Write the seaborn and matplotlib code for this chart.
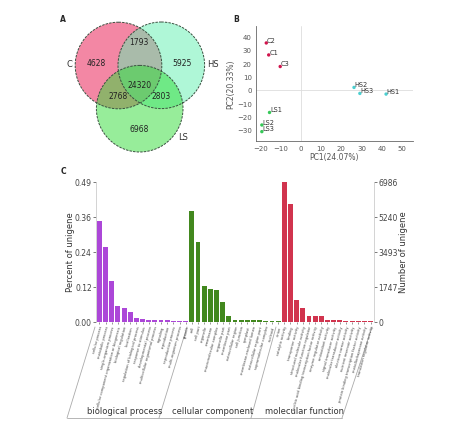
import numpy as np
import pandas as pd
import matplotlib
matplotlib.use("Agg")
import matplotlib.pyplot as plt
from matplotlib.patches import Circle
import seaborn as sns

sns.set_theme(style="white")
plt.rcParams['font.family'] = ['DejaVu Sans']

# ---- A: Venn counts ----
venn_sets = ['C', 'HS', 'LS']
venn_counts = {'C': 4628, 'HS': 5925, 'LS': 6968, 'C&HS': 1793,
               'C&LS': 2768, 'HS&LS': 2803, 'all': 24320}

# ---- B: PCA scores ----
pca_names = ['C1', 'C2', 'C3', 'HS1', 'HS2', 'HS3', 'LS1', 'LS2', 'LS3']
pca_group = ['C', 'C', 'C', 'HS', 'HS', 'HS', 'LS', 'LS', 'LS']
pc1 = [-16.0, -17.2, -10.3, 42.2, 26.3, 29.2, -15.6, -19.4, -19.4]
pc2 = [26.2, 35.2, 17.5, -3.2, 1.8, -2.7, -17.0, -26.4, -31.4]

# ---- C: GO classification ----
bp_terms = ['cellular process', 'metabolic process', 'single-organism process',
            'cellular component organization or biogenesis', 'biological regulation',
            'localization', 'regulation of biological process', 'response to stimulus',
            'developmental process', 'multicellular organismal process', 'signaling',
            'reproduction', 'reproductive process', 'multi-organism process', 'growth']
bp_pct = [0.354, 0.260, 0.143, 0.056, 0.046, 0.032, 0.012, 0.009, 0.006, 0.005,
          0.005, 0.004, 0.002, 0.001, 0.001]
cc_terms = ['cell', 'cell part', 'organelle', 'membrane', 'macromolecular complex',
            'organelle part', 'membrane part', 'extracellular region', 'cell junction',
            'symplast', 'membrane-enclosed lumen', 'extracellular region part',
            'supramolecular complex', 'nucleoid', 'virion']
cc_pct = [0.387, 0.278, 0.124, 0.114, 0.112, 0.067, 0.018, 0.006, 0.006, 0.005,
          0.005, 0.004, 0.003, 0.002, 0.001]
mf_terms = ['catalytic activity', 'binding', 'transporter activity',
            'structural molecule activity', 'molecular function regulator',
            'nucleic acid binding transcription factor activity', 'enzyme regulator activity',
            'antioxidant activity', 'signal transducer activity', 'molecular transducer activity',
            'electron carrier activity', 'nutrient reservoir activity',
            'protein binding transcription factor activity', 'metallochaperone activity',
            'translation regulator activity']
mf_pct = [0.488, 0.412, 0.075, 0.046, 0.020, 0.020, 0.020, 0.007, 0.005, 0.005,
          0.0005, 0.0005, 0.0005, 0.0005, 0.0005]
go_groups = ['biological process', 'cellular component', 'molecular function']
left_ticks = ['0.00', '0.12', '0.24', '0.36', '0.49']
right_ticks = ['0', '1747', '3493', '5240', '6986']

go = pd.DataFrame({
    'term': bp_terms + cc_terms + mf_terms,
    'pct': bp_pct + cc_pct + mf_pct,
    'ontology': [go_groups[0]] * 15 + [go_groups[1]] * 15 + [go_groups[2]] * 15,
})
pca = pd.DataFrame({'name': pca_names, 'group': pca_group, 'PC1': pc1, 'PC2': pc2})

fig = plt.figure(figsize=(4.74, 4.31), dpi=100)
W, H = 474, 431

# overlay in pixel coords for venn and brackets
ov = fig.add_axes([0, 0, 1, 1])
ov.set_xlim(0, W)
ov.set_ylim(H, 0)
ov.axis('off')

# Venn
circ = {'C': ((118.5, 66.5), '#e8104a', 0.5), 'HS': ((161.3, 66.3), '#60f0b0', 0.5),
        'LS': ((139.7, 109.7), '#30dc36', 0.5)}
for s in venn_sets:
    (cx, cy), col, a = circ[s]
    ov.add_patch(Circle((cx, cy), 43.3, facecolor=col, alpha=a, edgecolor='none'))
for s in venn_sets:
    (cx, cy), col, a = circ[s]
    ov.add_patch(Circle((cx, cy), 43.3, facecolor='none', edgecolor='#3a5040',
                        lw=0.7, ls=(0, (2.5, 1.2))))
vpos = {'C': (96.7, 63.3), 'HS': (182.3, 63.3), 'LS': (139.3, 129.3),
        'C&HS': (139.3, 42.3), 'C&LS': (118, 96.7), 'HS&LS': (161, 96.7),
        'all': (139.3, 86)}
for k, v in venn_counts.items():
    ov.text(*vpos[k], str(v), fontsize=5.5, ha='center', va='center', color='#222222')
ov.text(69.3, 64.3, 'C', fontsize=6, ha='center', va='center', color='#333333')
ov.text(212.7, 64.3, 'HS', fontsize=6, ha='center', va='center', color='#333333')
ov.text(183.3, 137.3, 'LS', fontsize=6, ha='center', va='center', color='#333333')
ov.text(62.7, 20, 'A', fontsize=5.5, fontweight='bold', ha='center', va='center')
ov.text(236, 20, 'B', fontsize=5.5, fontweight='bold', ha='center', va='center')
ov.text(63, 172, 'C', fontsize=5.5, fontweight='bold', ha='center', va='center')

# brackets under GO labels
line_kw = dict(color='#aaaaaa', lw=0.6)
ov.plot([67, 342], [419, 419], **line_kw)
for xt, xb in [(95, 67), (187, 159), (276, 251), (372, 342)]:
    ov.plot([xt, xb], [328, 419], **line_kw)
for x, g in zip([125, 213, 305], go_groups):
    ov.text(x, 412, g, fontsize=6, ha='center', va='center', color='#333333')

# ---- B: PCA ----
axb = fig.add_axes([256 / W, 1 - 141.7 / H, 156.7 / W, 114.4 / H])
axb.axhline(0, color='#dddddd', lw=0.6, zorder=0)
axb.axvline(0, color='#dddddd', lw=0.6, zorder=0)
pal_b = {'C': '#d0144c', 'HS': '#4ccfd0', 'LS': '#36c858'}
sns.scatterplot(data=pca, x='PC1', y='PC2', hue='group', palette=pal_b, s=6,
                edgecolor='none', legend=False, ax=axb)
for _, r in pca.iterrows():
    axb.text(r.PC1 + 0.3, r.PC2 + 2.4, r['name'], fontsize=4.8, color='#333333',
             ha='left', va='center')
axb.set_xlim(-22.3, 55.4)
axb.set_ylim(-38.2, 47.7)
axb.set_xticks(range(-20, 51, 10))
axb.set_yticks(range(-30, 41, 10))
axb.tick_params(labelsize=5, length=2, width=0.5, pad=1, colors='#555555')
axb.set_xlabel('PC1(24.07%)', fontsize=5.5, labelpad=1, color='#555555')
axb.set_ylabel('PC2(20.33%)', fontsize=5.5, labelpad=1, color='#555555')
for sp in ['top', 'right']:
    axb.spines[sp].set_visible(False)
for sp in ['left', 'bottom']:
    axb.spines[sp].set_color('#666666')
    axb.spines[sp].set_linewidth(0.6)

# ---- C: GO bars ----
axc = fig.add_axes([96 / W, 1 - 322.5 / H, 278 / W, 139.8 / H])
pal_c = {go_groups[0]: '#b52ff0', go_groups[1]: '#3c9a0c', go_groups[2]: '#eb1a3c'}
sns.barplot(data=go, x='term', y='pct', hue='ontology', palette=pal_c, dodge=False,
            width=0.8, linewidth=0, legend=False, ax=axc)
axc.set_xlim(-0.55, 44.55)
axc.set_ylim(0, 0.49)
yt = np.linspace(0, 0.49, 5)
axc.set_yticks(yt)
axc.set_yticklabels(left_ticks)
axc.set_xlabel('')
axc.set_ylabel('Percent of unigene', fontsize=6, color='#333333', labelpad=0)
axc.tick_params(axis='y', labelsize=5.5, length=2, width=0.5, pad=1, colors='#444444', left=True)
axc.tick_params(axis='x', labelsize=2.6, length=1.5, width=0.4, pad=1, colors='#444444', bottom=True)
for lab in axc.get_xticklabels():
    lab.set_rotation(75)
    lab.set_ha('right')
    lab.set_rotation_mode('anchor')
for sp in ['top', 'right', 'bottom']:
    axc.spines[sp].set_visible(False)
axc.spines['left'].set_color('#cccccc')
axc.spines['left'].set_linewidth(0.6)

axr = axc.twinx()
axr.set_ylim(0, 0.49)
axr.set_yticks(yt)
axr.set_yticklabels(right_ticks)
axr.set_ylabel('Number of unigene', fontsize=6, color='#333333', labelpad=1)
axr.tick_params(axis='y', labelsize=5.5, length=2, width=0.5, pad=1, colors='#444444', right=True)
for sp in ['top', 'left', 'bottom']:
    axr.spines[sp].set_visible(False)
axr.spines['right'].set_color('#cccccc')
axr.spines['right'].set_linewidth(0.6)
axr.grid(False)
axc.grid(False)

fig.savefig('out.png', dpi=100)
